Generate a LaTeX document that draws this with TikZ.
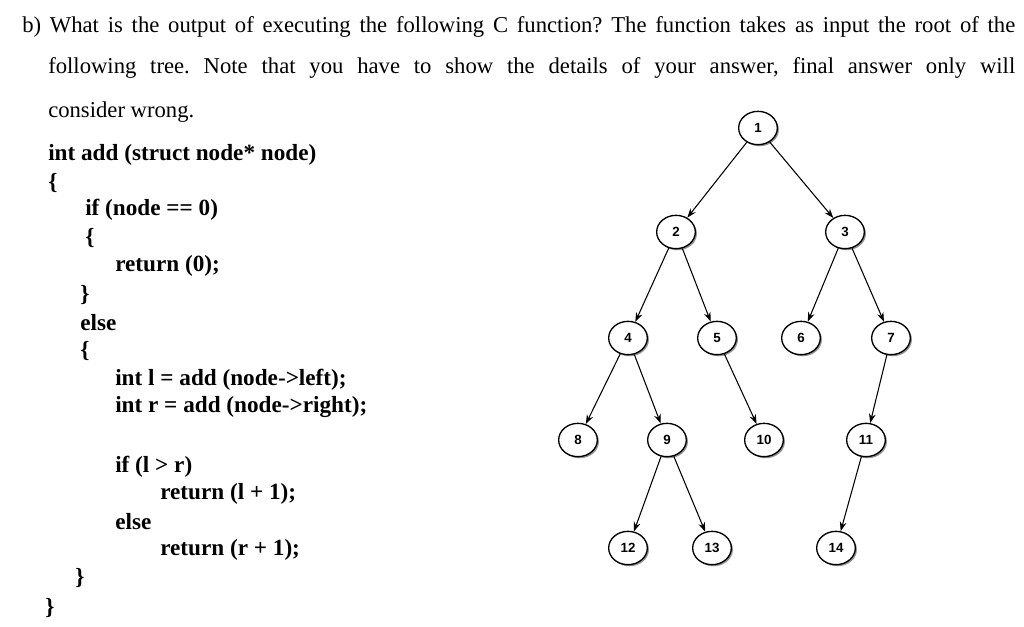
\documentclass[tikz,border=0pt]{standalone}
\usepackage{fontspec}
\setmainfont{Liberation Serif}
\newfontfamily\numfont{Liberation Sans}
\usetikzlibrary{shadows,shapes.geometric,arrows.meta}
\frenchspacing
\begin{document}
\begin{tikzpicture}[x=0.75pt,y=-0.75pt,
  tn/.style={ellipse,draw,line width=1pt,minimum width=29pt,minimum height=25pt,inner sep=0pt,fill=white,
    font=\numfont\bfseries\fontsize{10}{12}\selectfont,drop shadow={shadow xshift=1.2pt,shadow yshift=-1.2pt,fill=black!60,opacity=0.7}},
  ed/.style={-{Stealth[length=7pt,width=5pt]},line width=0.8pt},
  txt/.style={anchor=west,inner sep=0pt,font=\fontsize{17}{20}\selectfont},
  cd/.style={anchor=west,inner sep=0pt,font=\bfseries\fontsize{17.4}{20}\selectfont}]
\useasboundingbox (0,0) rectangle (1024,626);
\fill[white] (0,0) rectangle (1024,626);
\node[txt] (l1) at (22,27) {\makebox[744.75pt][s]{b) What is the output of executing the following C function? The function takes as input the root of the}};
\node[txt] (l2) at (48,68) {\makebox[725.25pt][s]{following tree. Note that you have to show the details of your answer, final answer only will}};
\node[txt] (l3) at (48,112) {consider wrong.};
\node[cd] (c1) at (48,155) {int add (struct node* node)};
\node[cd] (c2) at (48,183) {\{};
\node[cd] (c3) at (85,210) {if (node == 0)};
\node[cd] (c4) at (85,238) {\{};
\node[cd] (c5) at (115,266) {return (0);};
\node[cd] (c6) at (80,295) {\}};
\node[cd] (c7) at (80,323) {else};
\node[cd] (c8) at (80,351) {\{};
\node[cd] (c9) at (115,380) {int l = add (node->left);};
\node[cd] (c10) at (115,407) {int r = add (node->right);};
\node[cd] (c11) at (115,467) {if (l > r)};
\node[cd] (c12) at (160,494) {return (l + 1);};
\node[cd] (c13) at (115,522) {else};
\node[cd] (c14) at (160,550) {return (r + 1);};
\node[cd] (c15) at (75,578) {\}};
\node[cd] (c16) at (45,608) {\}};
\node[tn] (n1) at (758,128) {1};
\node[tn] (n2) at (676,232) {2};
\node[tn] (n3) at (845,232) {3};
\node[tn] (n4) at (628,338) {4};
\node[tn] (n5) at (717,338) {5};
\node[tn] (n6) at (801,338) {6};
\node[tn] (n7) at (891,338) {7};
\node[tn] (n8) at (578,440) {8};
\node[tn] (n9) at (667,440) {9};
\node[tn] (n10) at (764,440) {10};
\node[tn] (n11) at (866,440) {11};
\node[tn] (n12) at (628,548) {12};
\node[tn] (n13) at (712,548) {13};
\node[tn] (n14) at (836,548) {14};
\foreach \a/\b in {1/2,1/3,2/4,2/5,3/6,3/7,4/8,4/9,5/10,7/11,9/12,9/13,11/14}
  \draw[ed] (n\a) -- (n\b);
\end{tikzpicture}
\end{document}
